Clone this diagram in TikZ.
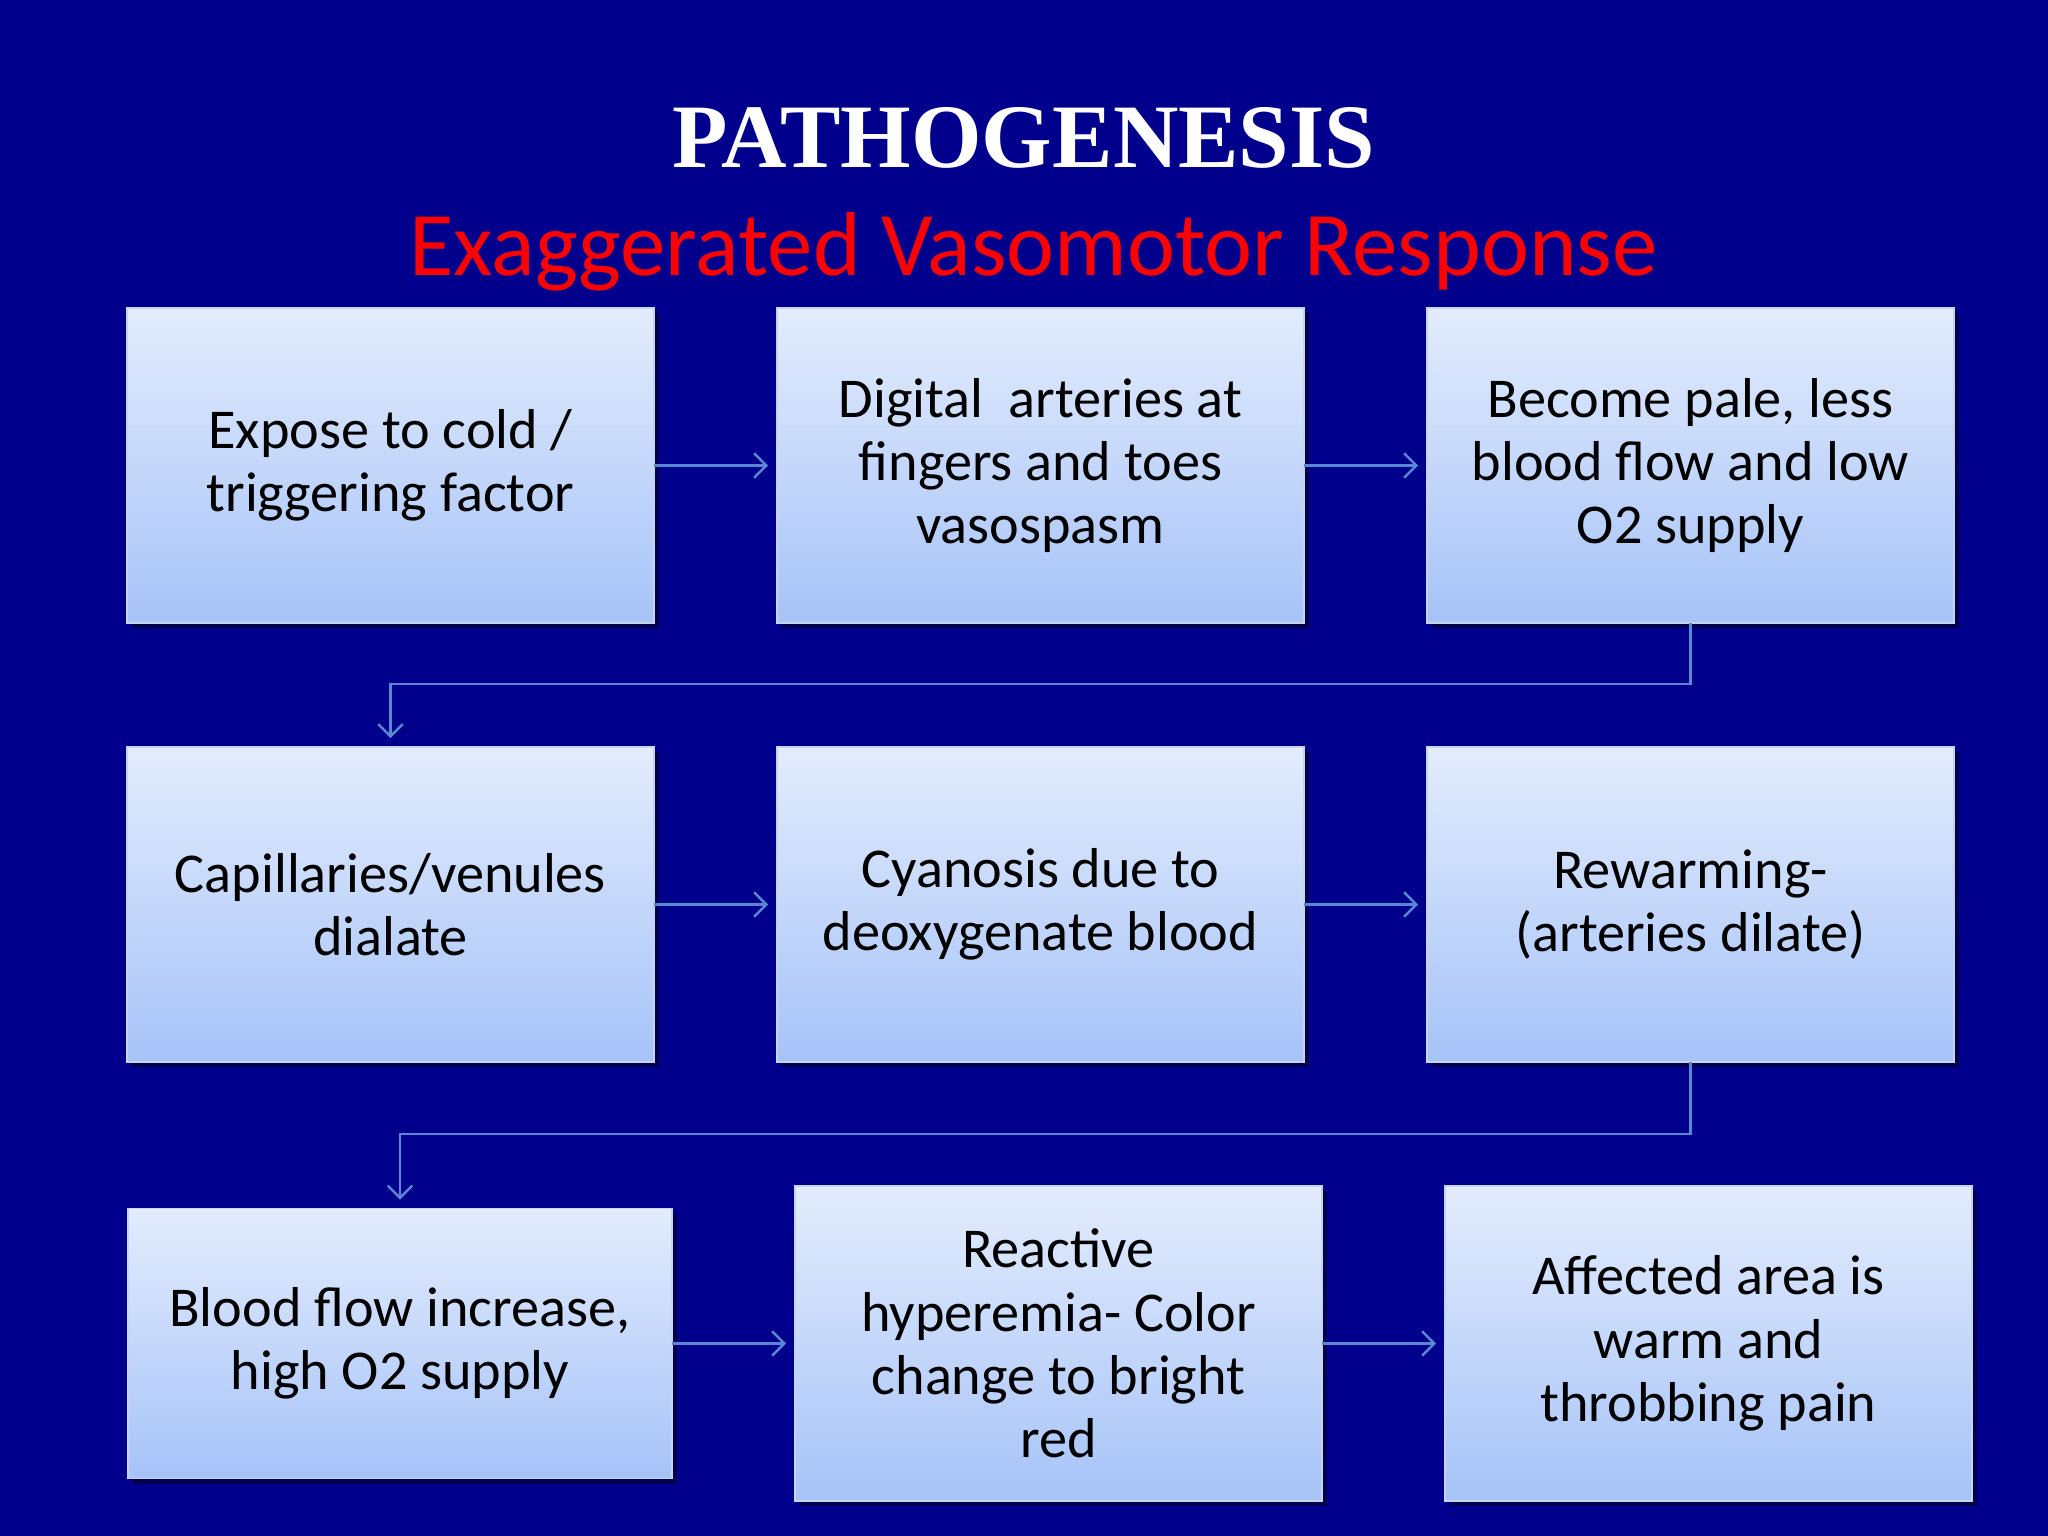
\documentclass[tikz,border=0pt]{standalone}
\usepackage{fontspec}
\setmainfont{Carlito}
\newfontfamily\titlefont{Liberation Serif}
\definecolor{bg}{RGB}{0,0,140}
\definecolor{boxtop}{HTML}{E3ECFD}
\definecolor{boxbot}{HTML}{A6C3F8}
\definecolor{boxline}{HTML}{C5D3EC}
\definecolor{flowline}{RGB}{88,136,212}
\definecolor{subred}{RGB}{255,0,0}
\usetikzlibrary{
  arrows.meta,     % open arrow tips
  positioning,     % right=of, below=of
  shadows          % shadow under the boxes
}
\tikzset{
    node distance=1.24cm and 1.23cm,
    stage/.style = {
        rectangle,
        draw=boxline,
        line width=0.5pt,
        top color=boxtop,
        bottom color=boxbot,
        minimum width=5.27cm,
        minimum height=3.15cm,
        align=center,
        text=black,
        font=\fontsize{16}{18}\selectfont,
        inner sep=0pt,
        outer sep=0pt,
        drop shadow={shadow xshift=1.5pt, shadow yshift=-1.5pt, fill=black, opacity=0.45}
    },
    short/.append style = {minimum width=5.44cm, minimum height=2.70cm},
    heading/.style = {text=white, font=\titlefont\bfseries\fontsize{25.8}{30}\selectfont},
    subheading/.style = {text=subred, font=\fontsize{25.85}{30}\selectfont},
    link/.style = {->, draw=flowline, line width=0.7pt, shorten >=2.5pt},
    >={Straight Barb[length=3.5pt, width=7pt]}  % arrow type
}

\begin{document}
\begin{tikzpicture}

  %% background
  \fill [bg] (-3.905,4.655) rectangle (16.575,-10.705);

  %% titles
  \node [heading, anchor=base] (title) at (6.335,2.975) {PATHOGENESIS};
  \node [subheading, anchor=base] (subtitle) at (6.43,1.895) {Exaggerated Vasomotor Response};

  %% first row
  \node [stage] (cold) {Expose to cold /\\triggering factor};
  \node [stage, right=of cold] (spasm) {Digital~ arteries at\\fingers and toes\\vasospasm};
  \node [stage, right=of spasm] (pale) {Become pale, less\\blood flow and low\\O2 supply};

  \draw [link] (cold) -- (spasm);
  \draw [link] (spasm) -- (pale);

  %% second row
  \node [stage, below=of cold] (capil) {Capillaries/venules\\dialate};
  \node [stage, right=of capil] (cyan) {Cyanosis due to\\deoxygenate blood};
  \node [stage, right=of cyan] (rewarm) {Rewarming-\\(arteries dilate)};

  \draw [link] (pale.south) -- ++(0,-0.61) -| (capil.north);
  \draw [link] (capil) -- (cyan);
  \draw [link] (cyan) -- (rewarm);

  %% third row
  \node [stage, below=of cyan, xshift=0.18cm] (hyper) {Reactive\\hyperemia- Color\\change to bright\\red};
  \node [stage, short, left=of hyper] (flow) {Blood flow increase,\\high O2 supply};
  \node [stage, right=of hyper] (pain) {Affected area is\\warm and\\throbbing pain};

  \draw [link] (rewarm.south) -- ++(0,-0.72) -| (flow.north);
  \draw [link] (flow) -- (hyper);
  \draw [link] (hyper) -- (pain);

\end{tikzpicture}
\end{document}
